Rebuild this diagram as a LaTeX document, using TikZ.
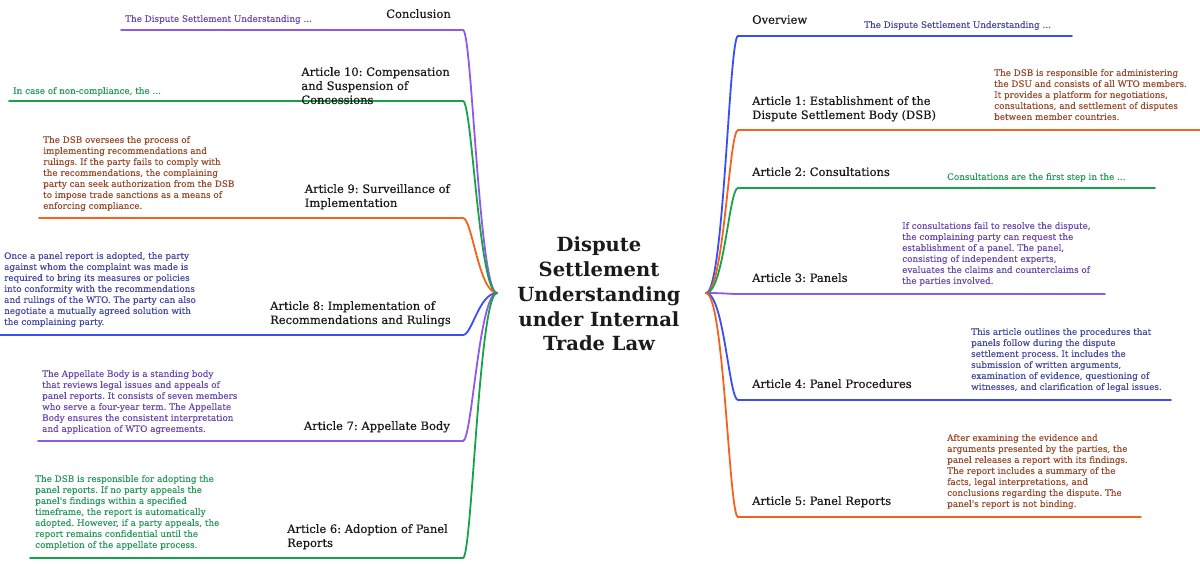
\documentclass[tikz,border=0pt]{standalone}
\usepackage{fontspec}
\setmainfont{DejaVu Serif}
\newfontfamily\ttlfont{DejaVu Serif}[FakeBold=0.35]
\newfontfamily\dtlfont{DejaVu Serif}[FakeBold=0.12]
\frenchspacing
\definecolor{lblue}{HTML}{3A4EF2}
\definecolor{lorange}{HTML}{F5621E}
\definecolor{lgreen}{HTML}{17A34A}
\definecolor{lpurple}{HTML}{8D5BE8}
\definecolor{tbrown}{HTML}{9A4A2A}
\definecolor{tgreen}{HTML}{279A5A}
\definecolor{tindigo}{HTML}{4548A0}
\definecolor{tpurple}{HTML}{6A48AE}
\definecolor{ttitle}{HTML}{1A1A1A}
\tikzset{
  ttl/.style={inner sep=0pt, font=\ttlfont\fontsize{11.5}{14}\selectfont, align=left, text=ttitle},
  ttlR/.style={ttl, anchor=north west},
  ttlL/.style={ttl, anchor=north east},
  dtl/.style={anchor=north west, inner sep=0pt, font=\dtlfont\fontsize{8.8}{11}\selectfont, align=left},
  br/.style={line width=1.8pt, line cap=round},
}
\begin{document}
\begin{tikzpicture}[x=1pt,y=-1pt]
\useasboundingbox[fill=white] (0,0) rectangle (1200,563);

% centre
\node[font=\bfseries\fontsize{19.5}{24.8}\selectfont, align=center, text=ttitle, inner sep=0pt] (c) at (599,294)
  {Dispute\\Settlement\\Understanding\\under Internal\\Trade Law};
\coordinate (cl) at (497,293);
\coordinate (cr) at (706,293);

% right side corners and ends
\coordinate (k0) at (738,36);  \coordinate (e0) at (1072,36);
\coordinate (k1) at (738,130); \coordinate (e1) at (1200,130);
\coordinate (k2) at (738,188); \coordinate (e2) at (1155,188);
\coordinate (k3) at (738,294); \coordinate (e3) at (1105,294);
\coordinate (k4) at (738,400); \coordinate (e4) at (1171,400);
\coordinate (k5) at (738,517); \coordinate (e5) at (1141,517);
% left side corners and ends
\coordinate (m0) at (463,30);  \coordinate (f0) at (121,30);
\coordinate (m1) at (463,101); \coordinate (f1) at (9,101);
\coordinate (m2) at (463,218); \coordinate (f2) at (39,218);
\coordinate (m3) at (463,335); \coordinate (f3) at (0,335);
\coordinate (m4) at (463,441); \coordinate (f4) at (38,441);
\coordinate (m5) at (463,558); \coordinate (f5) at (30,558);

% right branches
\draw[br, lblue]   (cr) .. controls +(18,0) and +(-9,0) .. (k0) -- (e0);
\draw[br, lorange] (cr) .. controls +(18,0) and +(-9,0) .. (k1) -- (e1);
\draw[br, lgreen]  (cr) .. controls +(18,0) and +(-9,0) .. (k2) -- (e2);
\draw[br, lpurple] (cr) .. controls +(18,0) and +(-9,0) .. (k3) -- (e3);
\draw[br, lblue]   (cr) .. controls +(18,0) and +(-9,0) .. (k4) -- (e4);
\draw[br, lorange] (cr) .. controls +(18,0) and +(-9,0) .. (k5) -- (e5);
% left branches
\draw[br, lpurple] (cl) .. controls +(-18,0) and +(9,0) .. (m0) -- (f0);
\draw[br, lgreen]  (cl) .. controls +(-18,0) and +(9,0) .. (m1) -- (f1);
\draw[br, lorange] (cl) .. controls +(-18,0) and +(9,0) .. (m2) -- (f2);
\draw[br, lblue]   (cl) .. controls +(-18,0) and +(9,0) .. (m3) -- (f3);
\draw[br, lpurple] (cl) .. controls +(-18,0) and +(9,0) .. (m4) -- (f4);
\draw[br, lgreen]  (cl) .. controls +(-18,0) and +(9,0) .. (m5) -- (f5);

% right titles
\node[ttlR] (t0) at (752,15)  {Overview};
\node[ttlR] (t1) at (752,96)  {Article 1: Establishment of the\\Dispute Settlement Body (DSB)};
\node[ttlR] (t2) at (752,167) {Article 2: Consultations};
\node[ttlR] (t3) at (752,273) {Article 3: Panels};
\node[ttlR] (t4) at (752,379) {Article 4: Panel Procedures};
\node[ttlR] (t5) at (752,496) {Article 5: Panel Reports};
% right details
\node[dtl, text=tindigo] (d0) at (864,21) {The Dispute Settlement Understanding ...};
\node[dtl, text=tbrown] (d1) at (994,69) {The DSB is responsible for administering\\the DSU and consists of all WTO members.\\It provides a platform for negotiations,\\consultations, and settlement of disputes\\between member countries.};
\node[dtl, text=tgreen] (d2) at (947,173) {Consultations are the first step in the ...};
\node[dtl, text=tpurple] (d3) at (902,222) {If consultations fail to resolve the dispute,\\the complaining party can request the\\establishment of a panel. The panel,\\consisting of independent experts,\\evaluates the claims and counterclaims of\\the parties involved.};
\node[dtl, text=tindigo] (d4) at (971,328) {This article outlines the procedures that\\panels follow during the dispute\\settlement process. It includes the\\submission of written arguments,\\examination of evidence, questioning of\\witnesses, and clarification of legal issues.};
\node[dtl, text=tbrown] (d5) at (947,434) {After examining the evidence and\\arguments presented by the parties, the\\panel releases a report with its findings.\\The report includes a summary of the\\facts, legal interpretations, and\\conclusions regarding the dispute. The\\panel's report is not binding.};

% left titles
\node[ttlL] (u0) at (451,9)   {Conclusion};
\node[ttlL] (u1) at (450,67)  {Article 10: Compensation\\and Suspension of\\Concessions};
\node[ttlL] (u2) at (450,184) {Article 9: Surveillance of\\Implementation};
\node[ttlL] (u3) at (451,301) {Article 8: Implementation of\\Recommendations and Rulings};
\node[ttlL] (u4) at (450,421) {Article 7: Appellate Body};
\node[ttlL] (u5) at (448,524) {Article 6: Adoption of Panel\\Reports};
% left details
\node[dtl, text=tpurple] (g0) at (125,15) {The Dispute Settlement Understanding ...};
\node[dtl, text=tgreen] (g1) at (13,87) {In case of non-compliance, the ...};
\node[dtl, text=tbrown] (g2) at (43,136) {The DSB oversees the process of\\implementing recommendations and\\rulings. If the party fails to comply with\\the recommendations, the complaining\\party can seek authorization from the DSB\\to impose trade sanctions as a means of\\enforcing compliance.};
\node[dtl, text=tindigo] (g3) at (4,252) {Once a panel report is adopted, the party\\against whom the complaint was made is\\required to bring its measures or policies\\into conformity with the recommendations\\and rulings of the WTO. The party can also\\negotiate a mutually agreed solution with\\the complaining party.};
\node[dtl, text=tpurple] (g4) at (42,370) {The Appellate Body is a standing body\\that reviews legal issues and appeals of\\panel reports. It consists of seven members\\who serve a four-year term. The Appellate\\Body ensures the consistent interpretation\\and application of WTO agreements.};
\node[dtl, text=tgreen] (g5) at (35,475) {The DSB is responsible for adopting the\\panel reports. If no party appeals the\\panel's findings within a specified\\timeframe, the report is automatically\\adopted. However, if a party appeals, the\\report remains confidential until the\\completion of the appellate process.};
\end{tikzpicture}
\end{document}
